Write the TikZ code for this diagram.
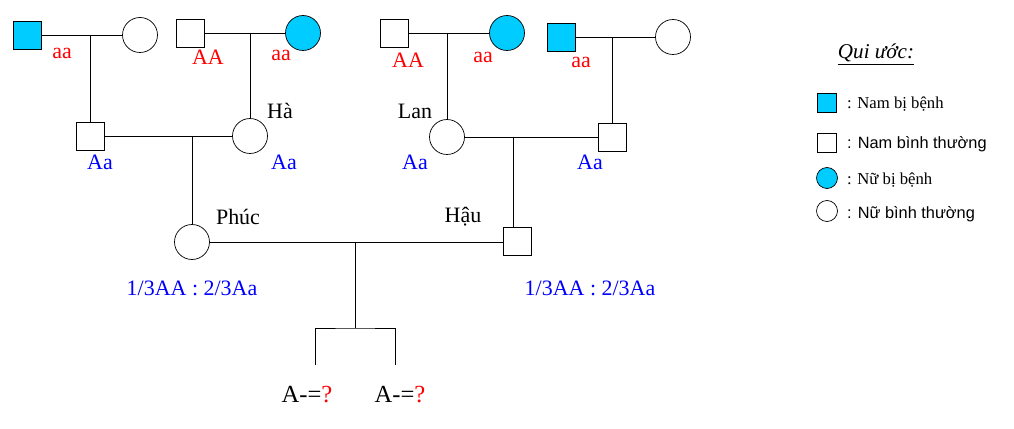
\documentclass[tikz,border=0pt]{standalone}
\usepackage{fontspec}
\setmainfont{Liberation Serif}
\newfontfamily\lsans{Liberation Sans}
\begin{document}
\begin{tikzpicture}[x=0.02cm,y=-0.02cm,
 m/.style={draw,minimum size=0.56cm,inner sep=0pt},
 f/.style={draw,circle,minimum width=0.7cm,minimum height=0.62cm,inner sep=0pt},
 lab/.style={font=\fontsize{12.5}{14}\selectfont},
 r/.style={lab,text=red},b/.style={lab,text=blue}]
\useasboundingbox (0,0) rectangle (1014,429);
\definecolor{sk}{HTML}{00CCFF}
\tikzset{sick/.style={fill=sk}}
% gen 1
\node[m,sick] (a1) at (27,35) {};
\node[f] (a2) at (140,35) {};
\node[m] (b1) at (190,33) {};
\node[f,sick] (b2) at (303,33) {};
\node[m] (c1) at (394,33) {};
\node[f,sick] (c2) at (507,33) {};
\node[m,sick] (d1) at (561,37) {};
\node[f] (d2) at (673,37) {};
% gen 2
\node[m] (e1) at (90,136) {};
\node[f] (e2) at (250,136) {};
\node[f] (g1) at (447,137) {};
\node[m] (g2) at (612,137) {};
% gen 3
\node[f] (p) at (192,242) {};
\node[m] (h) at (517,241) {};
\draw (a1) -- (a2);
\draw (b1) -- (b2);
\draw (c1) -- (c2);
\draw (d1) -- (d2);
\draw (90,35) -- (e1);
\draw (250,33) -- (e2);
\draw (447,33) -- (g1);
\draw (612,37) -- (g2);
\draw (e1) -- (e2);
\draw (g1) -- (g2);
\draw (192,136) -- (p);
\draw (513,137) -- (h.north -| 513,0);
\draw (p) -- (p -| h.west);
\coordinate (k) at (355,242);
\coordinate (k2) at (355,328);
\coordinate (l) at (315,365);
\coordinate (rr) at (395,365);
\draw (k) -- (k2);
\draw (l) |- (k2) -| (rr);
% labels
\node[r] at (62,53) {aa};
\node[r] at (208,57) {AA};
\node[r] at (281,55) {aa};
\node[r] at (408,60) {AA};
\node[r] at (483,57) {aa};
\node[r] at (581,62) {aa};
\node[lab] at (280,111) {Hà};
\node[lab] at (415,111) {Lan};
\node[b] at (100,162) {Aa};
\node[b] at (284,162) {Aa};
\node[b] at (415,162) {Aa};
\node[b] at (590,162) {Aa};
\node[lab] at (238,217) {Phúc};
\node[lab] at (463,217) {Hậu};
\node[b] at (192,288) {1/3AA : 2/3Aa};
\node[b] at (590,288) {1/3AA : 2/3Aa};
\node[lab,font=\fontsize{14}{16}\selectfont] at (307,395) {A-=\textcolor{red}{?}};
\node[lab,font=\fontsize{14}{16}\selectfont] at (400,395) {A-=\textcolor{red}{?}};
% legend
\node[lab,font=\fontsize{12}{14}\selectfont\itshape] at (876,55) {\underline{Qui ước:}};
\node[m,sick,minimum size=0.38cm] (L1) at (827,103) {};
\node[anchor=west,font=\fontsize{9.5}{11}\selectfont] at (841,104) {: Nam bị bệnh};
\node[m,minimum size=0.38cm] (L2) at (827,143) {};
\node[anchor=west,font=\lsans\fontsize{9.3}{11}\selectfont] at (841,144) {: Nam bình thường};
\node[f,sick,minimum width=0.42cm,minimum height=0.38cm] (L3) at (827,178) {};
\node[anchor=west,font=\fontsize{9.5}{11}\selectfont] at (841,180) {: Nữ bị bệnh};
\node[f,minimum width=0.42cm,minimum height=0.38cm] (L4) at (827,211) {};
\node[anchor=west,font=\lsans\fontsize{9.3}{11}\selectfont] at (841,214) {: Nữ bình thường};
\end{tikzpicture}
\end{document}
